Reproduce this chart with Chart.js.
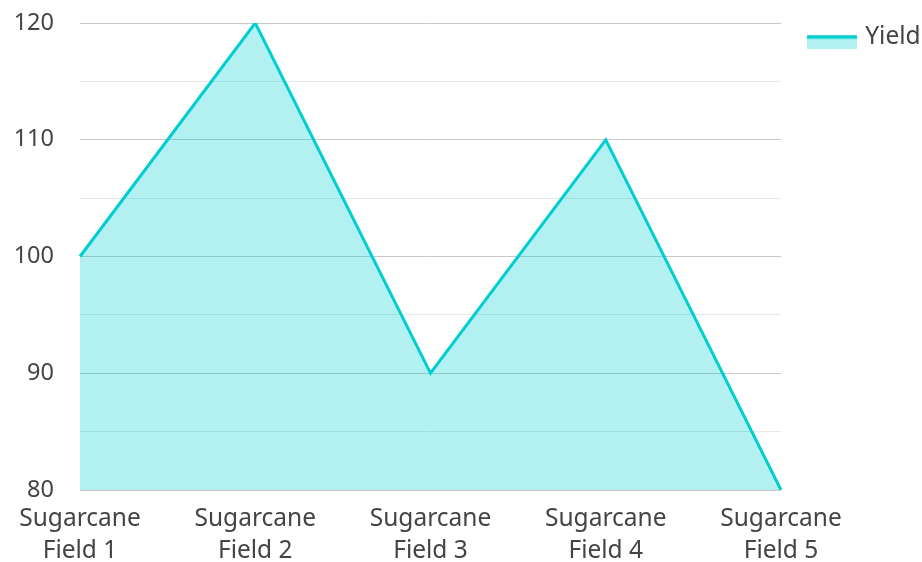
<!DOCTYPE html>
<html>
<head>
<meta charset="utf-8">
<script src="https://cdn.jsdelivr.net/npm/chart.js@4/dist/chart.umd.min.js"></script>
<style>
  html, body { margin: 0; padding: 0; background: #ffffff; }
  #wrap { width: 922px; height: 562px; }
</style>
</head>
<body>
<div id="wrap"><canvas id="c" width="922" height="562"></canvas></div>
<script>
const categories = [
  ['Sugarcane', 'Field 1'],
  ['Sugarcane', 'Field 2'],
  ['Sugarcane', 'Field 3'],
  ['Sugarcane', 'Field 4'],
  ['Sugarcane', 'Field 5']
];
const seriesName = 'Yield';
const yieldValues = [100, 120, 90, 110, 80];
const yMin = 80;
const yMax = 120;
const yStep = 5;
const yLabelStep = 10;

const lineColor = '#00CED1';
const fillColor = 'rgba(0, 206, 209, 0.3)';
const textColor = '#444444';
const FONT = '"Noto Sans", "Open Sans", sans-serif';

// legend swatch: thick line on top, light fill below
const PSW = 54;
const sw = document.createElement('canvas');
sw.width = 62; sw.height = 24;
(function () {
  const g = sw.getContext('2d');
  const x0 = 12;
  g.fillStyle = fillColor;
  g.fillRect(x0, 13, 50, 11);
  g.fillStyle = lineColor;
  g.fillRect(x0, 10, 50, 3.5);
})();

new Chart(document.getElementById('c'), {
  type: 'line',
  data: {
    labels: categories,
    datasets: [{
      label: seriesName,
      data: yieldValues,
      borderColor: lineColor,
      backgroundColor: fillColor,
      borderWidth: 3,
      fill: 'start',
      tension: 0,
      pointRadius: 0,
      pointHoverRadius: 0,
      pointStyle: sw
    }]
  },
  options: {
    responsive: false,
    devicePixelRatio: 1,
    animation: false,
    layout: { padding: { top: 7, right: 2, left: 13, bottom: 0 } },
    plugins: {
      tooltip: { enabled: false },
      legend: {
        position: 'right',
        align: 'start',
        maxWidth: 139,
        labels: {
          usePointStyle: true,
          pointStyleWidth: PSW,
          padding: 18,
          color: textColor,
          font: { family: FONT, size: 24.5 }
        }
      }
    },
    scales: {
      x: {
        grid: { display: false },
        border: { display: false },
        afterFit: (s) => { s.height = 72; },
        ticks: {
          color: textColor,
          padding: 5,
          maxRotation: 0,
          autoSkip: false,
          font: { family: FONT, size: 24.5, lineHeight: 1.3 }
        }
      },
      y: {
        min: yMin,
        max: yMax,
        border: { display: false },
        afterFit: (s) => { s.width = 67; s.paddingTop = 23; s.paddingBottom = 0; },
        grid: {
          drawTicks: false,
          lineWidth: 1,
          color: (ctx) => (ctx.tick && ctx.tick.value % yLabelStep === 0) ? '#c8c8c8' : '#e6e6e6'
        },
        ticks: {
          stepSize: yStep,
          padding: 26,
          color: textColor,
          font: { family: FONT, size: 23.5 },
          callback: (v) => (v % yLabelStep === 0 ? String(v) : '')
        }
      }
    }
  }
});
</script>
</body>
</html>
